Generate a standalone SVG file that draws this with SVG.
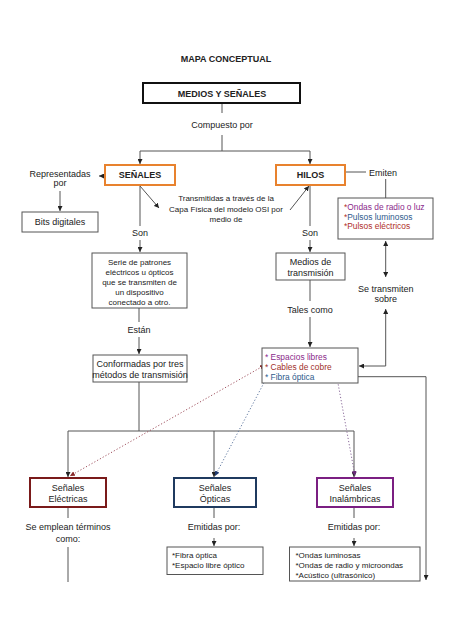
<svg xmlns="http://www.w3.org/2000/svg" width="452" height="640" viewBox="0 0 452 640">
<style>
text{font-family:"Liberation Sans",Arial,sans-serif;font-size:9px;fill:#222}
.b{font-weight:bold}
.c{text-anchor:middle}
.s8{font-size:8px}
.s85{font-size:8.4px}
.pu{fill:#8b2a8b}
.rd{fill:#a0302a}
.rr{fill:#b0302a}
.bl{fill:#2e5a8b}
.box{fill:#fff;stroke:#555;stroke-width:1}
.ln{fill:none;stroke:#555;stroke-width:1}
.dot{fill:none;stroke-width:1;stroke-dasharray:1.2 2}
</style>
<defs>
<marker id="ah" viewBox="0 0 6 6" refX="6" refY="3" markerWidth="5" markerHeight="5" orient="auto-start-reverse" markerUnits="userSpaceOnUse"><path d="M0,0 L6,3 L0,6 Z" fill="#222"/></marker>
<marker id="ahr" viewBox="0 0 6 6" refX="6" refY="3" markerWidth="5" markerHeight="5" orient="auto-start-reverse" markerUnits="userSpaceOnUse"><path d="M0,0 L6,3 L0,6 Z" fill="#8a2a2a"/></marker>
<marker id="ahb" viewBox="0 0 6 6" refX="6" refY="3" markerWidth="5" markerHeight="5" orient="auto-start-reverse" markerUnits="userSpaceOnUse"><path d="M0,0 L6,3 L0,6 Z" fill="#1f3a6f"/></marker>
<marker id="ahp" viewBox="0 0 6 6" refX="6" refY="3" markerWidth="5" markerHeight="5" orient="auto-start-reverse" markerUnits="userSpaceOnUse"><path d="M0,0 L6,3 L0,6 Z" fill="#6a2a7a"/></marker>
</defs>
<rect width="452" height="640" fill="#fff"/>
<text class="b c" x="226" y="62">MAPA CONCEPTUAL</text>

<g id="connectors">
<path class="ln" d="M222,103 V113"/>
<path class="ln" d="M222,135 V151 M140,151 H310"/>
<path class="ln" d="M140,151 V164" marker-end="url(#ah)"/>
<path class="ln" d="M310,151 V164" marker-end="url(#ah)"/>
<path class="ln" d="M105,176 H99" marker-end="url(#ah)"/>
<path class="ln" d="M60,191 V211" marker-end="url(#ah)"/>
<path class="ln" d="M140,186 L159,208" marker-end="url(#ah)"/>
<path class="ln" d="M290,210 L309,186" marker-end="url(#ah)"/>
<path class="ln" d="M140,185 V226"/>
<path class="ln" d="M140,240 V252" marker-end="url(#ah)"/>
<path class="ln" d="M310,185 V226"/>
<path class="ln" d="M310,240 V252" marker-end="url(#ah)"/>
<path class="ln" d="M345,172 H366"/>
<path class="ln" d="M385.7,179 V198"/>
<path class="ln" d="M385.7,241 V277" marker-start="url(#ah)" marker-end="url(#ah)"/>
<path class="ln" d="M139,308 V322"/>
<path class="ln" d="M139,337 V354" marker-end="url(#ah)"/>
<path class="ln" d="M139,382 V431 M68,431 H354"/>
<path class="ln" d="M68,431 V477" marker-end="url(#ah)"/>
<path class="ln" d="M214,431 V477" marker-end="url(#ah)"/>
<path class="ln" d="M354,431 V477" marker-end="url(#ah)"/>
<path class="ln" d="M310,280 V301"/>
<path class="ln" d="M310,317 V347" marker-end="url(#ah)"/>
<path class="ln" d="M385.7,309 V366 H359" marker-start="url(#ah)" marker-end="url(#ah)"/>
<path class="ln" d="M358,376.7 H426 V580" marker-end="url(#ah)"/>
<path class="ln" d="M68,507 V518 M214,507 V518 M354,507 V518"/>
<path class="ln" d="M68,547 V582"/>
<path class="ln" d="M214,538 V546" marker-end="url(#ah)"/>
<path class="ln" d="M354,538 V546" marker-end="url(#ah)"/>
<path class="dot" stroke="#a0525f" d="M265,365 L70,476" marker-start="url(#ahr)" marker-end="url(#ahr)"/>
<path class="dot" stroke="#5f78a0" d="M267,377 L215,476" marker-start="url(#ahb)" marker-end="url(#ahb)"/>
<path class="dot" stroke="#8a6a9a" d="M333,356 L355,476" marker-start="url(#ahp)" marker-end="url(#ahp)"/>
</g>

<g id="medios">
<rect x="143" y="83" width="157" height="20" fill="#fff" stroke="#111" stroke-width="2"/>
<text class="b c" x="222" y="96.5">MEDIOS Y SEÑALES</text>
</g>
<g id="compuesto"><text class="c" x="222" y="127.5">Compuesto por</text></g>

<g id="senales">
<rect x="105" y="165" width="70" height="20" fill="#fff" stroke="#e8822e" stroke-width="2"/>
<text class="b c" x="140" y="178">SEÑALES</text>
</g>
<g id="hilos">
<rect x="276" y="165" width="69" height="20" fill="#fff" stroke="#e8822e" stroke-width="2"/>
<text class="b c" x="310.5" y="178">HILOS</text>
</g>
<g id="representadas">
<text class="c" x="60" y="176.5">Representadas</text>
<text class="c" x="60" y="186">por</text>
</g>
<g id="bits">
<rect class="box" x="22" y="212" width="76" height="20"/>
<text class="c" x="60" y="225">Bits digitales</text>
</g>
<g id="transmitidas">
<text class="c s8" x="226" y="201">Transmitidas a través de la</text>
<text class="c s8" x="226" y="212">Capa Física del modelo OSI por</text>
<text class="c s8" x="226" y="222">medio de</text>
</g>
<g id="emiten"><text class="c" x="383" y="176">Emiten</text></g>
<g id="emisiones">
<rect class="box" x="338" y="198" width="95" height="41"/>
<text class="s85" x="344" y="209.5"><tspan class="rr">*</tspan><tspan class="pu">Ondas de radio o luz</tspan></text>
<text class="s85" x="344" y="219.5"><tspan class="rr">*</tspan><tspan class="bl">Pulsos luminosos</tspan></text>
<text class="s85 rr" x="344" y="229">*Pulsos eléctricos</text>
</g>
<g id="son1"><text class="c" x="140" y="236">Son</text></g>
<g id="son2"><text class="c" x="310" y="236">Son</text></g>
<g id="serie">
<rect class="box" x="92" y="253" width="95" height="55"/>
<text class="c s8" x="139.5" y="264.5">Serie de patrones</text>
<text class="c s8" x="139.5" y="274.5">eléctricos u ópticos</text>
<text class="c s8" x="139.5" y="284.5">que se transmiten de</text>
<text class="c s8" x="139.5" y="294.5">un dispositivo</text>
<text class="c s8" x="139.5" y="304.5">conectado a otro.</text>
</g>
<g id="medios-tx">
<rect class="box" x="276" y="253" width="69" height="27"/>
<text class="c" x="310.5" y="264.7">Medios de</text>
<text class="c" x="310.5" y="275.5">transmisión</text>
</g>
<g id="se-transmiten">
<text class="c" x="385.7" y="291.5">Se transmiten</text>
<text class="c" x="385.7" y="302">sobre</text>
</g>
<g id="tales"><text class="c" x="310" y="312.5">Tales como</text></g>
<g id="estan"><text class="c" x="139" y="333">Están</text></g>
<g id="conformadas">
<rect class="box" x="93" y="355" width="94" height="27"/>
<text class="c" x="140" y="366.5">Conformadas por tres</text>
<text class="c" x="140" y="378">métodos de transmisión</text>
</g>
<g id="medios-lista">
<rect class="box" x="262" y="348" width="96" height="35"/>
<text class="s85 pu" x="265" y="360">* Espacios libres</text>
<text class="s85 rd" x="265" y="369.7">* Cables de cobre</text>
<text class="s85 bl" x="265" y="379.7">* Fibra óptica</text>
</g>
<g id="electricas">
<rect x="30" y="478" width="76" height="29" fill="#fff" stroke="#7a1a1a" stroke-width="2"/>
<text class="c" x="68" y="491">Señales</text>
<text class="c" x="68" y="501.5">Eléctricas</text>
</g>
<g id="opticas">
<rect x="174" y="478" width="82" height="29" fill="#fff" stroke="#1f3a5f" stroke-width="2"/>
<text class="c" x="215" y="491">Señales</text>
<text class="c" x="215" y="501.5">Ópticas</text>
</g>
<g id="inalambricas">
<rect x="317" y="478" width="76" height="29" fill="#fff" stroke="#7b1f82" stroke-width="2"/>
<text class="c" x="355" y="491">Señales</text>
<text class="c" x="355" y="501.5">Inalámbricas</text>
</g>
<g id="se-emplean">
<text class="c" x="68" y="530">Se emplean términos</text>
<text class="c" x="68" y="542">como:</text>
</g>
<g id="emitidas1"><text class="c" x="214" y="530">Emitidas por:</text></g>
<g id="emitidas2"><text class="c" x="354" y="530">Emitidas por:</text></g>
<g id="lista-opticas">
<rect class="box" x="167" y="547" width="96" height="27.5"/>
<text class="s8" x="172" y="558">*Fibra óptica</text>
<text class="s8" x="172" y="568">*Espacio libre óptico</text>
</g>
<g id="lista-inalambricas">
<rect class="box" x="289.5" y="547" width="130.5" height="34"/>
<text class="s8" x="295.5" y="558">*Ondas luminosas</text>
<text class="s8" x="295.5" y="568">*Ondas de radio y microondas</text>
<text class="s8" x="295.5" y="578">*Acústico (ultrasónico)</text>
</g>
</svg>
